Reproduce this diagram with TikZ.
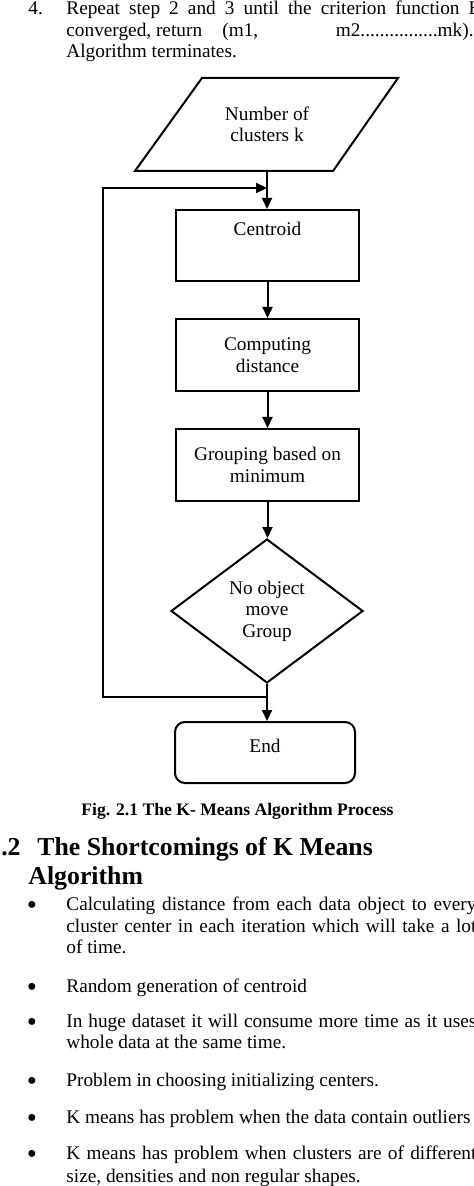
\documentclass[tikz,border=0pt]{standalone}
\usepackage{fontspec}
\setmainfont{Liberation Serif}
\usetikzlibrary{shapes.geometric,arrows.meta}
\begin{document}
\begin{tikzpicture}[x=0.5pt,y=-0.5pt,
  bodyfont/.style={font=\fontsize{9.65pt}{10.75pt}\selectfont},
  txt/.style={bodyfont, inner sep=0pt, anchor=base west},
  bul/.style={bodyfont, inner sep=0pt, anchor=base},
  flow/.style={draw, line width=1pt, bodyfont, align=center, inner sep=0pt},
  procbox/.style={flow, rectangle, minimum width=91.5pt, minimum height=36pt},
  link/.style={line width=1pt, -{Triangle[length=5.5pt,width=5pt]}},
  plain/.style={line width=1pt}]
\useasboundingbox (0,0) rectangle (474,1186);
\clip (0,0) rectangle (474,1186);

% top text
\node[txt] (n4) at (28,15) {4.};
\node[txt] (l1) at (66,15) {\makebox[207pt][s]{Repeat step 2 and 3 until the criterion function E}};
\node[txt] (l2a) at (66,37) {converged, return};
\node[txt] (l2b) at (222,37) {(m1,};
\node[txt, anchor=base east] (l2c) at (474,37) {m2................mk).};
\node[txt] (l3) at (66,58) {Algorithm terminates.};

% flowchart
\draw[plain] (135,171) -- (333,171) -- (398,78) -- (202,78) -- cycle;
\node[flow, draw=none, minimum width=98pt, minimum height=46.5pt] (inp) at (267,124.5) {Number of\\clusters k};
\node[procbox, minimum height=35.5pt, text height=5pt, text depth=14.5pt] (cen) at (267.5,245.5) {Centroid};
\node[procbox] (comp) at (267.5,355) {Computing\\distance};
\node[procbox] (grp) at (267.5,465) {Grouping based on\\minimum};
\node[flow, diamond, shape aspect=1.333, minimum width=96pt, minimum height=72pt] (dec) at (267,611) {No object\\move\\Group};
\node[flow, rectangle, rounded corners=5pt, minimum width=90pt, minimum height=30.5pt, text height=5pt, text depth=5pt] (fin) at (265,752.5) {End};

\coordinate (jb) at (267,697);
\coordinate (jt) at (267,188);
\coordinate (lb) at (103,697);
\coordinate (lt) at (103,188);

\draw[link] (inp.south) -- (inp.south |- cen.north);
\draw[link] (cen.south) -- (comp.north);
\draw[link] (comp.south) -- (grp.north);
\draw[link] (grp.south) -- (grp.south |- dec.north);
\draw[link] (dec.south) -- (dec.south |- fin.north);
\draw[link] (jb) -- (lb) -- (lt) -- (jt);

% caption
\node[inner sep=0pt, anchor=base, font=\fontsize{8.8pt}{10pt}\selectfont\bfseries] (cap) at (237.5,815) {Fig. 2.1 The K- Means Algorithm Process};

% heading
\node[inner sep=0pt, anchor=base east, font=\fontsize{12.9pt}{14pt}\selectfont\bfseries] (hnum) at (21,855) {2.2};
\node[inner sep=0pt, anchor=base west, font=\fontsize{12.9pt}{14pt}\selectfont\bfseries] (h1) at (37,855) {The Shortcomings of K Means};
\node[inner sep=0pt, anchor=base west, font=\fontsize{12.9pt}{14pt}\selectfont\bfseries] (h2) at (28,884) {Algorithm};

% bullets
\foreach \yy/\nm in {910/b1,992/b2,1027/b3,1086/b4,1123/b5,1159/b6}
  \node[bul] (\nm) at (32,\yy) {\raisebox{-2.2pt}{\scalebox{1.5}{\textbullet}}};
\node[txt] (t1a) at (66,910) {\makebox[205pt][s]{Calculating distance from each data object to every}};
\node[txt] (t1b) at (66,932) {\makebox[205pt][s]{cluster center in each iteration which will take a lot}};
\node[txt] (t1c) at (66,953) {of time.};
\node[txt] (t2) at (66,992) {Random generation of centroid};
\node[txt] (t3a) at (66,1027) {\makebox[205pt][s]{In huge dataset it will consume more time as it uses}};
\node[txt] (t3b) at (66,1048) {whole data at the same time.};
\node[txt] (t4) at (66,1086) {Problem in choosing initializing centers.};
\node[txt] (t5) at (66,1123) {K means has problem when the data contain outliers};
\node[txt] (t6a) at (66,1159) {\makebox[205pt][s]{K means has problem when clusters are of different}};
\node[txt] (t6b) at (66,1182) {size, densities and non regular shapes.};
\end{tikzpicture}
\end{document}
